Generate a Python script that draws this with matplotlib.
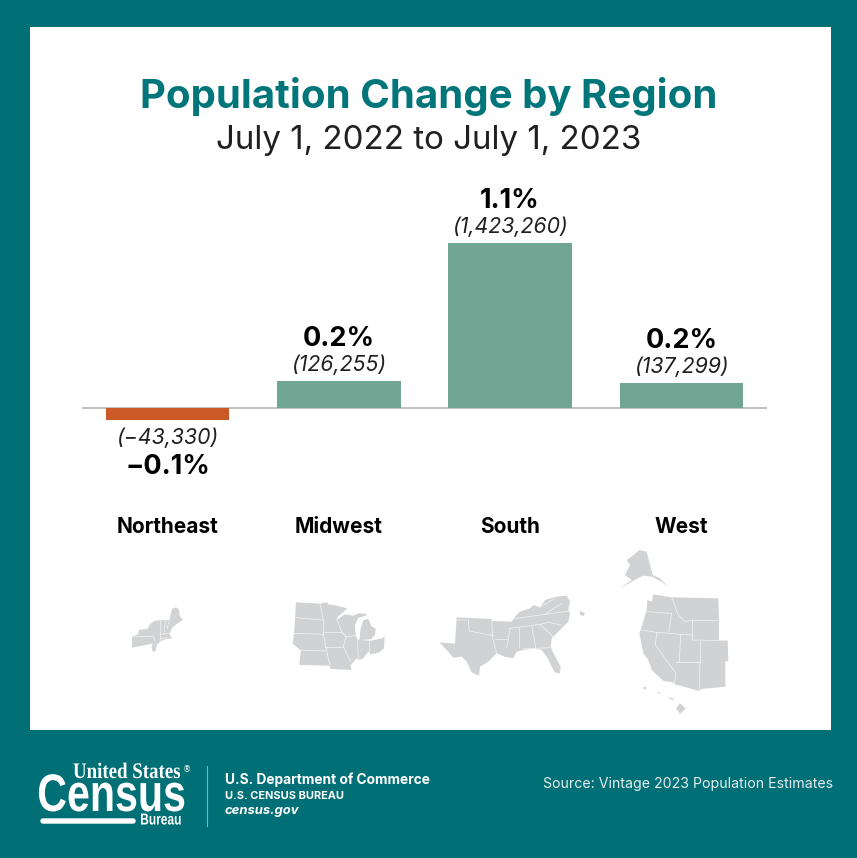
#!/usr/bin/env python
"""Population change by region, July 2022 to July 2023 (Census infographic)."""
import matplotlib
matplotlib.use("Agg")
import matplotlib.pyplot as plt
import matplotlib.patheffects as pe
from matplotlib.patches import Polygon, Rectangle, FancyBboxPatch
from matplotlib.transforms import Affine2D

REGIONS = ["Northeast", "Midwest", "South", "West"]
PCT_BAR = [-0.08, 0.18, 1.10, 0.17]   # bar heights (percent)
PCT_LAB = ["\u22120.1%", "0.2%", "1.1%", "0.2%"]
NUM_LAB = ["(\u221243,330)", "(126,255)", "(1,423,260)", "(137,299)"]

TEAL = "#006f76"
TITLE = "#00757a"
GREEN = "#70a493"
ORANGE = "#cc5a29"
GRAY = "#d1d2d3"
FONT = "Inter"
W, H = 857, 858

# map outlines, in pixels of a crop (x, y), offset/scale applied in draw_map
NE_OUT = [(66, 275), (83, 268), (88, 254), (112, 252), (122, 235), (135, 227), (178, 225), (186, 192),
          (198, 187), (206, 192), (210, 215), (219, 224), (200, 237), (185, 250), (178, 268), (186, 280),
          (168, 282), (150, 290), (140, 300), (137, 318), (128, 320), (125, 307), (128, 296), (66, 308)]
NE_LINES = [[(66, 275), (130, 275), (135, 290)], [(150, 227), (150, 285)], [(166, 226), (162, 268)],
            [(150, 268), (180, 265)], [(150, 282), (172, 278)], [(178, 225), (172, 250)]]
MW_OUT = [(558, 172), (630, 176), (652, 172), (655, 178), (680, 182), (712, 190), (684, 215), (680, 225),
          (705, 208), (730, 212), (745, 205), (770, 206), (768, 212), (745, 218), (735, 240), (737, 270),
          (742, 283), (780, 288), (815, 280), (824, 275), (822, 310), (808, 322), (783, 328), (775, 320),
          (760, 340), (745, 345), (740, 340), (722, 360), (724, 375), (662, 372), (658, 362), (568, 360),
          (572, 316), (548, 296), (552, 265), (555, 220)]
MW_MICH = [(752, 250), (760, 225), (775, 222), (785, 245), (797, 250), (795, 270), (782, 283), (748, 285)]
MW_LINES = [[(555, 218), (640, 225)], [(552, 265), (640, 268)], [(572, 316), (650, 318)],
            [(630, 176), (640, 225), (640, 268), (650, 318), (660, 362)], [(640, 260), (695, 260)],
            [(645, 305), (700, 305)], [(680, 222), (695, 260), (708, 275), (700, 305), (722, 350)],
            [(705, 275), (738, 272)], [(742, 283), (745, 345)], [(778, 288), (778, 325)]]
SO_OUT = [(28, 292), (75, 296), (80, 217), (185, 222), (188, 228), (245, 230), (255, 215), (270, 200),
          (300, 190), (310, 180), (330, 187), (345, 165), (380, 155), (410, 152), (420, 170), (415, 195),
          (420, 205), (415, 230), (390, 255), (365, 280), (362, 305), (368, 320), (392, 365), (390, 385),
          (374, 382), (352, 338), (335, 315), (310, 310), (280, 315), (260, 320), (250, 340), (225, 335),
          (200, 325), (175, 350), (150, 365), (147, 392), (125, 382), (110, 350), (95, 335), (70, 338),
          (50, 315)]
SO_ISLE = [(450, 197), (465, 205), (460, 213), (450, 210)]
SO_LINES = [[(80, 225), (115, 225), (118, 258), (190, 272)], [(185, 225), (188, 280), (200, 325)],
            [(195, 282), (230, 282)], [(240, 250), (230, 310)], [(268, 248), (268, 310)],
            [(305, 242), (318, 310)], [(280, 312), (360, 308)], [(245, 222), (345, 208), (420, 198)],
            [(240, 250), (330, 238)], [(330, 238), (385, 290)], [(330, 238), (355, 232), (395, 240)],
            [(330, 187), (375, 160)], [(345, 208), (395, 175)]]
WE_AK = [(628, 15), (650, 20), (668, 90), (690, 100), (715, 125), (695, 110), (665, 95), (640, 92),
         (620, 102), (570, 130), (605, 105), (585, 90), (600, 60), (590, 45), (605, 35)]
WE_OUT = [(670, 148), (725, 157), (865, 160), (867, 225), (867, 285), (893, 285), (895, 348), (886, 350),
          (886, 425), (815, 432), (808, 438), (735, 418), (728, 412), (700, 408), (665, 375), (655, 345),
          (640, 325), (628, 265), (635, 245), (650, 195), (652, 165), (665, 170)]
WE_HI = [[(639, 427), (648, 426), (649, 432), (641, 433)], [(680, 440), (690, 443), (688, 448)],
         [(712, 455), (732, 462), (728, 466)], [(750, 475), (767, 490), (750, 507), (738, 490)]]
WE_LINES = [[(650, 200), (725, 205)], [(725, 157), (745, 210), (765, 230), (788, 225)],
            [(725, 205), (716, 262)], [(635, 255), (680, 262), (752, 268), (788, 270)],
            [(680, 262), (676, 300), (738, 385), (733, 415)], [(752, 268), (748, 350)],
            [(738, 350), (810, 350)], [(810, 350), (808, 438)], [(810, 288), (810, 350)],
            [(788, 225), (867, 225)], [(788, 225), (788, 285), (893, 287)]]


class Squeeze(pe.AbstractPathEffect):
    """Narrow text about x=cx (display px); no condensed font is installed."""

    def __init__(self, sx, cx):
        super().__init__()
        self.sx, self.cx = sx, cx

    def draw_path(self, renderer, gc, tpath, affine, rgbFace=None):
        a = affine + Affine2D().translate(-self.cx, 0).scale(self.sx, 1).translate(self.cx, 0)
        renderer.draw_path(gc, tpath, a, rgbFace)


def draw_map(ax, polys, lines, x0, y0):
    for p in polys:
        ax.add_patch(Polygon([(x0 + x / 3, y0 + y / 3) for x, y in p], fc=GRAY, ec="none", zorder=3))
    for ln in lines:
        ax.plot([x0 + x / 3 for x, y in ln], [y0 + y / 3 for x, y in ln], color="#f4f4f4", lw=0.5, zorder=4)


fig = plt.figure(figsize=(W / 100, H / 100), dpi=100, facecolor=TEAL)

# overlay in pixel coordinates: panel, headings, maps, footer
bg = fig.add_axes([0, 0, 1, 1])
bg.set_xlim(0, W); bg.set_ylim(H, 0); bg.axis("off")
bg.add_patch(Rectangle((30, 27), 801, 703, fc="white", ec="none", zorder=1))

bg.text(429, 96, "Population Change by Region", ha="center", va="center", fontsize=28.9,
        fontweight="bold", color=TITLE, family=FONT)
bg.text(429, 140, "July 1, 2022 to July 1, 2023", ha="center", va="center", fontsize=23.8,
        color="#231f20", family=FONT)

draw_map(bg, [NE_OUT, MW_OUT, MW_MICH], NE_LINES + MW_LINES, 110, 545)
draw_map(bg, [SO_OUT, SO_ISLE, WE_AK, WE_OUT] + WE_HI, SO_LINES + WE_LINES, 430, 545)

# logo and footer
bg.text(127, 773, "United States", ha="center", va="center", fontsize=16, fontweight="bold", color="white",
        family="Liberation Serif", path_effects=[Squeeze(0.85, 127)])
bg.text(187, 770, "\u00ae", ha="center", va="center", fontsize=6, color="white", family="DejaVu Sans")
bg.text(111.5, 797, "Census", ha="center", va="center", fontsize=38, fontweight="bold", color="white",
        family="Liberation Sans", path_effects=[Squeeze(0.78, 111.5)])
bg.add_patch(FancyBboxPatch((41, 819), 94, 4, boxstyle="round,pad=0,rounding_size=2", fc="white", ec="white",
                            lw=1, zorder=3))
bg.text(161, 820, "Bureau", ha="center", va="center", fontsize=11.5, fontweight="bold", color="white",
        family="Liberation Sans", path_effects=[Squeeze(0.75, 161)])
bg.plot([207, 207], [766, 826], color="#7fb3b6", lw=0.8)
bg.text(225, 780, "U.S. Department of Commerce", ha="left", va="center", fontsize=9.9, fontweight="bold",
        color="white", family=FONT)
bg.text(225, 796, "U.S. CENSUS BUREAU", ha="left", va="center", fontsize=7.9, fontweight="bold",
        color="white", family=FONT)
bg.text(225, 811, "census.gov", ha="left", va="center", fontsize=9.4, fontweight="bold", style="italic",
        color="white", family=FONT)
bg.text(833, 784, "Source: Vintage 2023 Population Estimates", ha="right", va="center", fontsize=10.2,
        color="#e3eeee", family=FONT)

# bars, 150 px per percentage point, baseline at y=408 px
top, bot = 230, 430
ax = fig.add_axes([82 / W, 1 - bot / H, 685 / W, (bot - top) / H])
ax.patch.set_alpha(0)
ax.set_xlim(-0.5, 3.5)
ax.set_ylim((408 - bot) / 150, (408 - top) / 150)
ax.axis("off")
ax.axhline(0, color="#b5b5b5", lw=1.2, zorder=1)
xs = range(len(REGIONS))
bars = ax.bar(xs, PCT_BAR, width=0.72, color=[ORANGE if v < 0 else GREEN for v in PCT_BAR], zorder=2)

for x, v, pct, num, name in zip(xs, PCT_BAR, PCT_LAB, NUM_LAB, REGIONS):
    # offsets are in points (1 px = 0.72 pt)
    num_off, pct_off = (11.5, 30) if v >= 0 else (-12.5, -33.5)
    ax.annotate(num, (x, v), xytext=(0, num_off), textcoords="offset points", ha="center", va="center",
                fontsize=15.3, style="italic", color="#231f20", family=FONT, annotation_clip=False)
    ax.annotate(pct, (x, v), xytext=(0, pct_off), textcoords="offset points", ha="center", va="center",
                fontsize=19.5, fontweight="bold", color="black", family=FONT, annotation_clip=False)
    ax.annotate(name, (x, 0), xytext=(0, -86), textcoords="offset points", ha="center", va="center",
                fontsize=15, fontweight="bold", color="black", family=FONT, annotation_clip=False)

fig.savefig("out.png", dpi=100, facecolor=TEAL)
